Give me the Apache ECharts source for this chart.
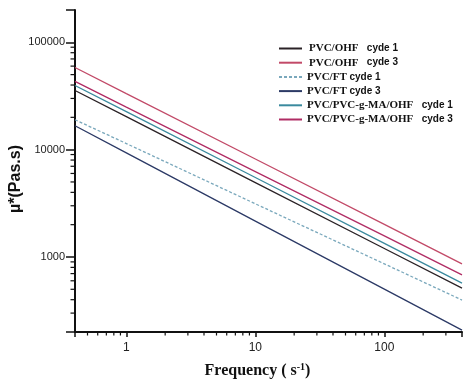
<!DOCTYPE html>
<html><head><meta charset="utf-8">
<script src="https://cdn.jsdelivr.net/npm/echarts@6/dist/echarts.min.js"></script>
<style>html,body{margin:0;padding:0;background:#fff}#c{width:474px;height:391px}</style>
</head><body><div id="c"></div>
<script>
const freq = [0.4, 1, 10, 100, 400];
const ohfCycle1 = [35600, 20300, 4930, 1200, 513];
const ohfCycle3 = [58300, 33300, 8180, 2010, 861];
const ftCycle1 = [19000, 11400, 3130, 863, 397];
const ftCycle3 = [16700, 9330, 2160, 501, 208];
const gmaCycle1 = [39600, 22600, 5500, 1340, 571];
const gmaCycle3 = [43300, 24900, 6250, 1570, 680];
const seriesNames = ['PVC/OHF cyde 1', 'PVC/OHF cyde 3', 'PVC/FT cyde 1', 'PVC/FT cyde 3', 'PVC/PVC-g-MA/OHF cyde 1', 'PVC/PVC-g-MA/OHF cyde 3'];
const xMin = 0.4, xMax = 400, yMin = 200, yMax = 200000;
const xMinorTicks = [0.5,0.6,0.7,0.8,0.9,2,3,4,5,6,7,8,9,20,30,40,50,60,70,80,90,200,300];
const yMinorTicks = [300,400,500,600,700,800,900,2000,3000,4000,5000,6000,7000,8000,9000,20000,30000,40000,50000,60000,70000,80000,90000];

function pairs(ys){ return freq.map((f,i)=>[f, ys[i]]); }
const colors = ['#2a2226', '#c24a68', '#7aa8bc', '#2c3a66', '#3a8a9e', '#b02c64'];
const data = [ohfCycle1, ohfCycle3, ftCycle1, ftCycle3, gmaCycle1, gmaCycle3];
const lineSeries = data.map((d,i)=>({
  name: seriesNames[i], type: 'line', symbol: 'none', data: pairs(d),
  lineStyle: {color: colors[i], width: 1.3, type: i===2 ? [3,2] : 'solid'},
  itemStyle: {color: colors[i]}
}));
function isPow10(v){ const l = Math.log10(v); return Math.abs(l-Math.round(l))<1e-6; }
const tickData = xMinorTicks.map(v=>[v, 1000, 0]).concat(yMinorTicks.map(v=>[1, v, 1]));
const tickSeries = [
  {type:'custom', clip:false, silent:true, data: tickData, dimensions: ['x','y','k'], encode: {x: 0, y: 1},
   renderItem: (p, api)=>{
     const c = api.coord([api.value(0), api.value(1)]);
     const x0 = p.coordSys.x, y0 = p.coordSys.y + p.coordSys.height;
     if (api.value(2) === 1) {
       return {type:'rect', shape:{x:x0-4.5, y:c[1]-0.6, width:4.5, height:1.2}, style:{fill:'#111'}};
     }
     return {type:'rect', shape:{x:c[0]-0.6, y:y0, width:1.2, height:3.5}, style:{fill:'#111'}};
   }}
];
const serifBold = {fontFamily: 'Liberation Serif', fontWeight: 'bold', fontSize: 11, color: '#111'};
const chart = echarts.init(document.getElementById('c'));
chart.setOption({
  backgroundColor: '#fff',
  animation: false,
  grid: {left: 75, right: 12, top: 10, bottom: 59, outerBoundsMode: 'none', containLabel: false},
  legend: {
    data: seriesNames, orient: 'vertical', left: 273, top: 38, itemGap: 3.2,
    itemWidth: 23, itemHeight: 12, itemStyle: {opacity: 0},
    formatter: n => {
      const idx = seriesNames.indexOf(n);
      const st = idx < 2 ? 'a2' : 'a0';
      const gap = idx < 2 || idx > 3 ? '   ' : ' ';
      const i = n.indexOf(' cyde');
      return '{' + st + '|' + n.slice(0,i) + '}{b|' + gap + n.slice(i+1) + '}';
    },
    textStyle: {color: '#111', rich: {
      a0: serifBold,
      a2: Object.assign({}, serifBold, {padding: [0,0,0,2]}),
      b: {fontFamily: 'Liberation Sans', fontWeight: 'bold', fontSize: 10, color: '#111'}
    }}
  },
  xAxis: {
    type: 'log', logBase: 10, min: xMin, max: xMax,
    name: '{a|Frequency ( s}{b|-1}{a|)}', nameLocation: 'middle', nameGap: 30, nameMoveOverlap: false,
    nameTextStyle: {padding: [0, 22, 0, 0], rich: {
      a: {fontFamily: 'Liberation Serif', fontWeight: 'bold', fontSize: 16, color: '#111'},
      b: {fontFamily: 'Liberation Serif', fontWeight: 'bold', fontSize: 10, color: '#111', verticalAlign: 'top', padding: [0,0,8,0]}
    }},
    axisLine: {lineStyle: {color: '#111', width: 2}},
    axisTick: {inside: false, length: 5, lineStyle: {color: '#111', width: 1.5}},
    axisLabel: {margin: 10, fontFamily: 'Liberation Sans', fontSize: 12, color: '#222',
      formatter: v => isPow10(v) ? String(Math.round(v)) : ''},
    splitLine: {show: false}
  },
  yAxis: {
    type: 'log', logBase: 10, min: yMin, max: yMax,
    name: 'µ*(Pas.s)', nameLocation: 'middle', nameGap: 51, nameRotate: 90, nameMoveOverlap: false,
    nameTextStyle: {fontFamily: 'Liberation Sans', fontWeight: 'bold', fontSize: 16, color: '#111', padding: [0, 16, 0, 0]},
    axisLine: {lineStyle: {color: '#111', width: 2}},
    axisTick: {inside: false, length: 9, lineStyle: {color: '#111', width: 1.5}},
    axisLabel: {margin: 10, fontFamily: 'Liberation Sans', fontSize: 11, color: '#222',
      formatter: v => isPow10(v) ? String(Math.round(v)) : ''},
    splitLine: {show: false}
  },
  series: lineSeries.concat(tickSeries)
});
</script></body></html>
